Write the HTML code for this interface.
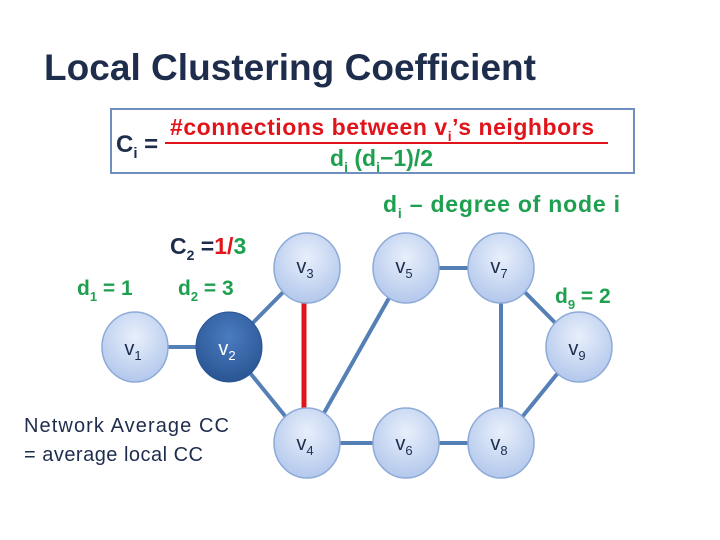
<!DOCTYPE html>
<html><head><style>
body{margin:0;background:#fff;}
svg{display:block;font-family:"Liberation Sans",sans-serif;}
</style></head><body>
<svg width="720" height="540" viewBox="0 0 720 540">
<defs>
<radialGradient id="g" cx="50%" cy="35%" r="65%"><stop offset="0" stop-color="#e8effb"/><stop offset="1" stop-color="#b3c8ec"/></radialGradient>
<radialGradient id="d" cx="50%" cy="35%" r="65%"><stop offset="0" stop-color="#4a7cc0"/><stop offset="1" stop-color="#2a5593"/></radialGradient>
</defs>
<text x="44" y="80" font-size="37" font-weight="bold" fill="#1f2d4d" textLength="492">Local Clustering Coefficient</text>
<rect x="111" y="109" width="523" height="64" fill="#fff" stroke="#6f8fbf" stroke-width="2"/>
<text x="116" y="152" font-size="24" font-weight="bold" fill="#1f2d4d">C<tspan font-size="15" dy="6">i</tspan><tspan dy="-6"> =</tspan></text>
<text x="170" y="135" font-size="23" font-weight="bold" fill="#e0141a" textLength="424">#connections between v<tspan font-size="14" dy="6">i</tspan><tspan dy="-6">’s neighbors</tspan></text>
<line x1="165" y1="143" x2="608" y2="143" stroke="#e0141a" stroke-width="2"/>
<text x="330" y="166" font-size="23" font-weight="bold" fill="#1fa050">d<tspan font-size="14" dy="6">i</tspan><tspan dy="-6"> (d</tspan><tspan font-size="14" dy="6">i</tspan><tspan dy="-6">−1)/2</tspan></text>
<text x="383" y="212" font-size="23" font-weight="bold" fill="#1fa050" textLength="237">d<tspan font-size="14" dy="6">i</tspan><tspan dy="-6"> – degree of node i</tspan></text>
<text x="170" y="254" font-size="23" font-weight="bold" fill="#1f2d4d">C<tspan font-size="14" dy="6">2</tspan><tspan dy="-6"> =</tspan><tspan fill="#e0141a">1/</tspan><tspan fill="#1fa050">3</tspan></text>
<text x="77" y="295" font-size="21" font-weight="bold" fill="#1fa050">d<tspan font-size="13" dy="6">1</tspan><tspan dy="-6"> = 1</tspan></text>
<text x="178" y="295" font-size="21" font-weight="bold" fill="#1fa050">d<tspan font-size="13" dy="6">2</tspan><tspan dy="-6"> = 3</tspan></text>
<text x="555" y="303" font-size="21" font-weight="bold" fill="#1fa050">d<tspan font-size="13" dy="6">9</tspan><tspan dy="-6"> = 2</tspan></text>
<text x="24" y="432" font-size="20" fill="#1f2d4d" textLength="205">Network Average CC</text>
<text x="24" y="461" font-size="20" fill="#1f2d4d" textLength="179">= average local CC</text>
<g stroke="#5580b5" stroke-width="4">
<line x1="135" y1="347" x2="229" y2="347"/>
<line x1="229" y1="347" x2="307" y2="268"/>
<line x1="229" y1="347" x2="307" y2="443"/>
<line x1="307" y1="443" x2="406" y2="268"/>
<line x1="406" y1="268" x2="501" y2="268"/>
<line x1="501" y1="268" x2="501" y2="443"/>
<line x1="501" y1="268" x2="579" y2="347"/>
<line x1="579" y1="347" x2="501" y2="443"/>
<line x1="307" y1="443" x2="406" y2="443"/>
<line x1="406" y1="443" x2="501" y2="443"/>
</g>
<line x1="304" y1="292" x2="304" y2="420" stroke="#e0141a" stroke-width="5"/>
<g stroke="#8eaad8" stroke-width="1.5" fill="url(#g)">
<ellipse cx="135" cy="347" rx="33" ry="35"/>
<ellipse cx="307" cy="268" rx="33" ry="35"/>
<ellipse cx="406" cy="268" rx="33" ry="35"/>
<ellipse cx="501" cy="268" rx="33" ry="35"/>
<ellipse cx="579" cy="347" rx="33" ry="35"/>
<ellipse cx="307" cy="443" rx="33" ry="35"/>
<ellipse cx="406" cy="443" rx="33" ry="35"/>
<ellipse cx="501" cy="443" rx="33" ry="35"/>
</g>
<ellipse cx="229" cy="347" rx="33" ry="35" fill="url(#d)" stroke="#2a5593"/>
<g font-size="20" fill="#1f2d4d" text-anchor="middle">
<text x="133" y="355">v<tspan font-size="13" dy="5">1</tspan></text>
<text x="227" y="355" fill="#fff">v<tspan font-size="13" dy="5">2</tspan></text>
<text x="305" y="273">v<tspan font-size="13" dy="5">3</tspan></text>
<text x="404" y="273">v<tspan font-size="13" dy="5">5</tspan></text>
<text x="499" y="273">v<tspan font-size="13" dy="5">7</tspan></text>
<text x="577" y="355">v<tspan font-size="13" dy="5">9</tspan></text>
<text x="305" y="450">v<tspan font-size="13" dy="5">4</tspan></text>
<text x="404" y="450">v<tspan font-size="13" dy="5">6</tspan></text>
<text x="499" y="450">v<tspan font-size="13" dy="5">8</tspan></text>
</g>
</svg>
</body></html>
